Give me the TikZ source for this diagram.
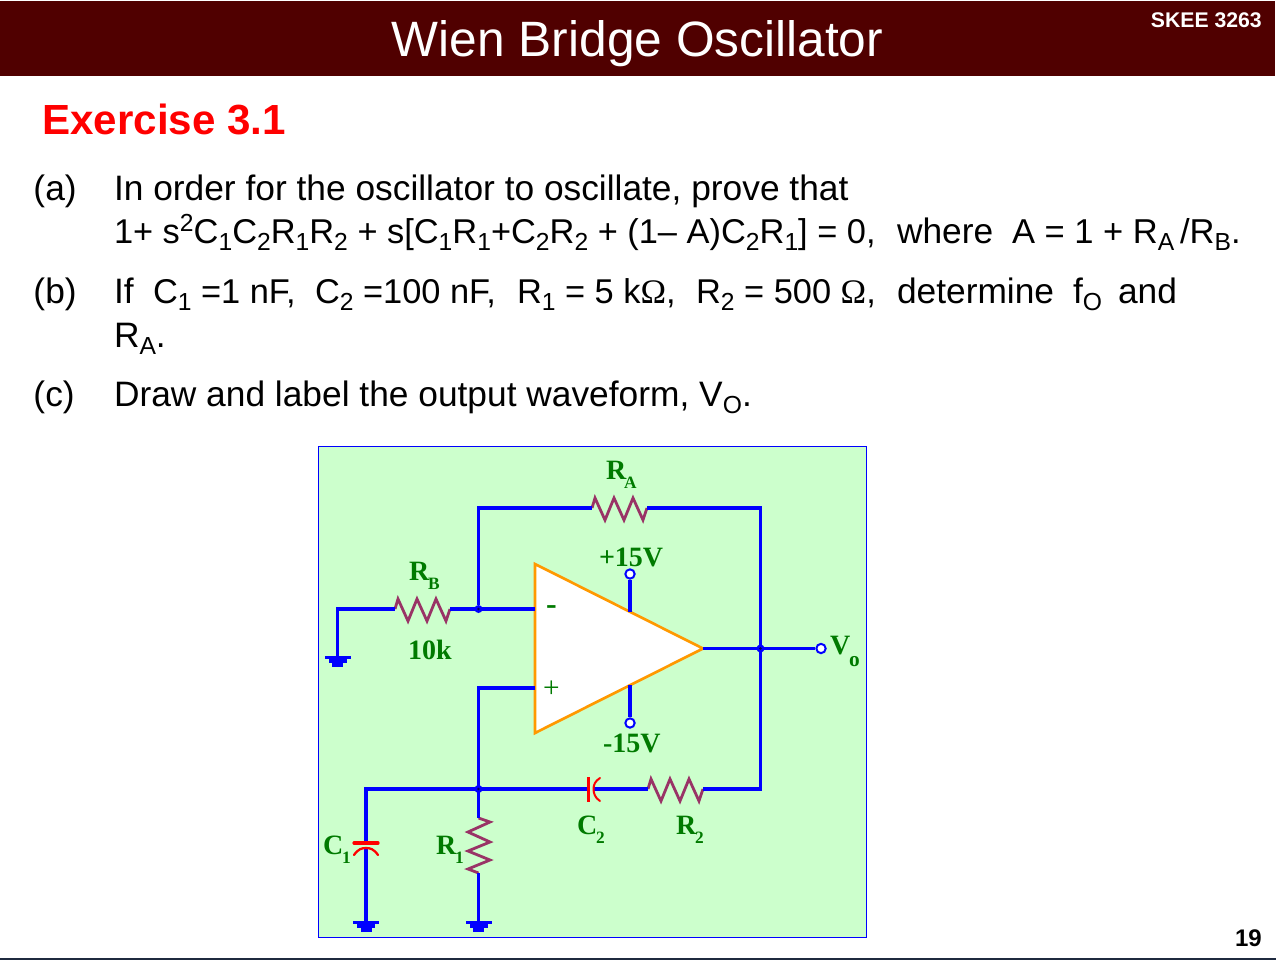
\documentclass[tikz,border=0pt]{standalone}
\usepackage{fontspec}
\setmainfont{Liberation Sans}
\newfontfamily\serif{Liberation Serif}
\definecolor{hdr}{HTML}{500000}
\definecolor{panel}{HTML}{CCFFCC}
\definecolor{wire}{HTML}{0000FF}
\definecolor{resi}{HTML}{993366}
\definecolor{lab}{HTML}{007A00}
\definecolor{opamp}{HTML}{FF9900}
\definecolor{foot}{HTML}{1F2A3F}
\newcommand\pxfont[1]{\fontsize{#1}{#1}\selectfont}
\newcommand\dn[1]{\raisebox{-5.6pt}{\pxfont{18.5}#1}}
\newcommand\ohm{{\serif\char"03A9}}
\newcommand\hres[4]{% name, x, y, unused
  \coordinate (#1-w) at (#2,#3);
  \draw[resline] (#2,#3) -- ++(3,-10) -- ++(10,22) -- ++(9,-22) -- ++(10,22) -- ++(9,-22) -- ++(10,22) -- ++(4,-12) coordinate (#1-e);
}
\newcommand\gnd[3]{% name, x, y
  \coordinate (#1) at (#2,#3);
  \fill[wire] (#2-13,#3) rectangle (#2+13,#3+3);
  \fill[wire] (#2-9,#3+3) rectangle (#2+9,#3+7);
  \fill[wire] (#2-5.5,#3+7) rectangle (#2+5.5,#3+11);
}
\tikzset{
  x=0.75pt,y=-0.75pt,
  wireline/.style={draw=wire,line width=2.5pt,line join=miter},
  thickwire/.style={draw=wire,line width=2.9pt,line join=miter},
  resline/.style={draw=resi,line width=2.1pt,line join=miter},
  capline/.style={draw=red,line width=2.1pt,line cap=round},
  body/.style={anchor=base west,inner sep=0pt,outer sep=0pt,font=\pxfont{26.5},text=black},
  eqn/.style={anchor=base west,inner sep=0pt,outer sep=0pt,font=\pxfont{25.8},text=black},
  clab/.style={anchor=base west,inner sep=0pt,outer sep=0pt,font=\serif\bfseries\pxfont{21},text=lab},
  csub/.style={anchor=base west,inner sep=0pt,outer sep=0pt,font=\serif\bfseries\pxfont{13},text=lab},
  jdot/.style={circle,fill=wire,draw=none,minimum size=6pt,inner sep=0pt},
  term/.style={circle,fill=white,draw=wire,line width=1.5pt,minimum size=7pt,inner sep=0pt},
}
\begin{document}
\begin{tikzpicture}
\useasboundingbox (0,0) rectangle (1276,960);
\fill[white] (0,0) rectangle (1276,960);
\fill[hdr] (0,1) rectangle (1275,76);
\fill[foot] (0,958) rectangle (1276,960);
\node[anchor=base,inner sep=0pt,text=white,font=\pxfont{37.25}] (title) at (637.5,56) {Wien Bridge Oscillator};
\node[anchor=base east,inner sep=0pt,text=white,font=\bfseries\pxfont{15.9}] (code) at (1262,27) {SKEE 3263};
\node[anchor=base west,inner sep=0pt,text=red,font=\bfseries\pxfont{31.6}] (ex) at (42,134) {Exercise 3.1};
% text lines
\node[body] (la) at (33.5,200) {(a)};
\node[body] (a1) at (114,200) {In order for the oscillator to oscillate, prove that};
\node[eqn] (a2) at (114,243) {1+ s\raisebox{8.5pt}{\pxfont{18.5}2}C\dn{1}C\dn{2}R\dn{1}R\dn{2} + s[C\dn{1}R\dn{1}+C\dn{2}R\dn{2} + (1– A)C\dn{2}R\dn{1}] = 0,};
\node[body] (a3) at (897,243) {where};
\node[body,font=\pxfont{25.9}] (a4) at (1012,243) {A = 1 + R\dn{A}\,/R\dn{B}.};
\node[body] (lb) at (33.5,303) {(b)};
\node[body] (b1) at (114,303) {If};
\node[eqn] (b2) at (153,303) {C\dn{1} =1 nF,};
\node[eqn] (b3) at (315,303) {C\dn{2} =100 nF,};
\node[eqn] (b4) at (517,303) {R\dn{1} = 5 k\ohm,};
\node[eqn] (b5) at (696,303) {R\dn{2} = 500 \ohm,};
\node[body] (b6) at (897,303) {determine};
\node[body] (b7) at (1073,303) {f\dn{O}};
\node[body] (b8) at (1118,303) {and};
\node[body] (b9) at (114,347) {R\dn{A}.};
\node[body] (lc) at (33.5,406) {(c)};
\node[body] (c1) at (114,406) {Draw and label the output waveform, V\dn{O}.};
\node[anchor=base east,inner sep=0pt,font=\bfseries\pxfont{18}] (pg) at (1262,946) {19};
% panel
\draw[fill=panel,draw=wire,line width=0.75pt] (318,446.5) rectangle (866.5,937.5);
% op-amp
\coordinate (op-top) at (535,564);
\coordinate (op-apex) at (703,648.5);
\coordinate (op-bot) at (535,733);
\coordinate (op-minus) at (535,609);
\coordinate (op-plus) at (535,688);
\coordinate (op-vp) at (630,612);
\coordinate (op-vn) at (630,685);
\draw[fill=white,draw=opamp,line width=2pt,line join=miter] (op-top) -- (op-apex) -- (op-bot) -- cycle;
% junctions and terminals
\node[jdot] (j1) at (478.5,609) {};
\node[jdot] (j2) at (760.5,648.5) {};
\node[jdot] (j3) at (478.5,789) {};
\node[term] (tp) at (630,574) {};
\node[term] (tn) at (630,723) {};
\node[term] (tout) at (821,648.5) {};
% resistors
\hres{rb}{395}{609}{}
\hres{ra}{592}{508}{}
\hres{rtwo}{648}{789}{}
\draw[resline] (478.5,818) coordinate (rone-n) -- ++(11.5,4) -- ++(-22,10) -- ++(22,10) -- ++(-22,9) -- ++(22,9) -- ++(-22,9) -- ++(10.5,4) coordinate (rone-s);
% grounds
\gnd{g1}{337.5}{656}
\gnd{g2}{366}{921}
\gnd{g3}{478.5}{921}
% caps
\coordinate (c1top) at (366,843);
\coordinate (c1bot) at (366,848);
\coordinate (c2l) at (589,789);
\coordinate (c2r) at (593,789);
% wires
\draw[wireline] (g1) |- (rb-w);
\draw[wireline] (rb-e) -- (op-minus);
\draw[wireline] (j1) |- (ra-w);
\draw[wireline] (ra-e) -| (j2.center) ;
\draw[wireline] (j2.center) |- (rtwo-e);
\draw[wireline] (op-apex) -- (tout);
\draw[wireline] (op-vp) -- (tp);
\draw[wireline] (op-vn) -- (tn);
\draw[wireline] (op-plus) -| (j3.center);
\draw[wireline] (j3.center) -- (rone-n);
\draw[wireline] (rone-s) -- (g3);
\draw[wireline] (j3.center) -- (c2l);
\draw[wireline] (c2r) -- (rtwo-w);
\draw[thickwire] (j3.center) -| (c1top);
\draw[thickwire] (c1bot) -- (g2);
\fill[black!70!blue] (j1) circle (1.3);
\fill[black!70!blue] (j2) circle (1.3);
\fill[black!70!blue] (j3) circle (1.3);
% capacitor plates
\draw[capline,line width=2.4pt] (354,843) -- (378,843);
\draw[capline,line width=1.7pt] (354,855) .. controls (358,849) and (362,848) .. (366,848) .. controls (370,848) and (374,849) .. (378,855);
\draw[capline,line width=1.8pt,line cap=butt] (588.5,777) -- (588.5,802);
\draw[capline,line width=1.5pt] (600,778) .. controls (595,781) and (593.5,785) .. (593.5,789) .. controls (593.5,793) and (595,798) .. (600,801);
% labels
\node[clab] (lra) at (606,479) {R};
\node[csub] (lras) at (624,488) {A};
\node[clab] (lrb) at (409,580) {R};
\node[csub] (lrbs) at (428,589) {B};
\node[clab] (lrbv) at (408,659) {10k};
\node[clab] (lvp) at (599,566) {+15V};
\node[clab] (lvn) at (603,752) {-15V};
\node[clab] (lvo) at (830,654) {V};
\node[csub,font=\serif\bfseries\pxfont{16}] (lvos) at (849,666) {o};
\node[clab] (lc1) at (323,854) {C};
\node[csub] (lc1s) at (342,863) {1};
\node[clab] (lr1) at (436,854) {R};
\node[csub] (lr1s) at (455,863) {1};
\node[clab] (lc2) at (577,834) {C};
\node[csub] (lc2s) at (596,843) {2};
\node[clab] (lr2) at (676,834) {R};
\node[csub] (lr2s) at (695,843) {2};
\node[clab,font=\serif\bfseries\pxfont{24}] (lmin) at (546,614) {-};
\node[clab,font=\serif\pxfont{22}] (lplus) at (543,697) {+};
\end{tikzpicture}
\end{document}
